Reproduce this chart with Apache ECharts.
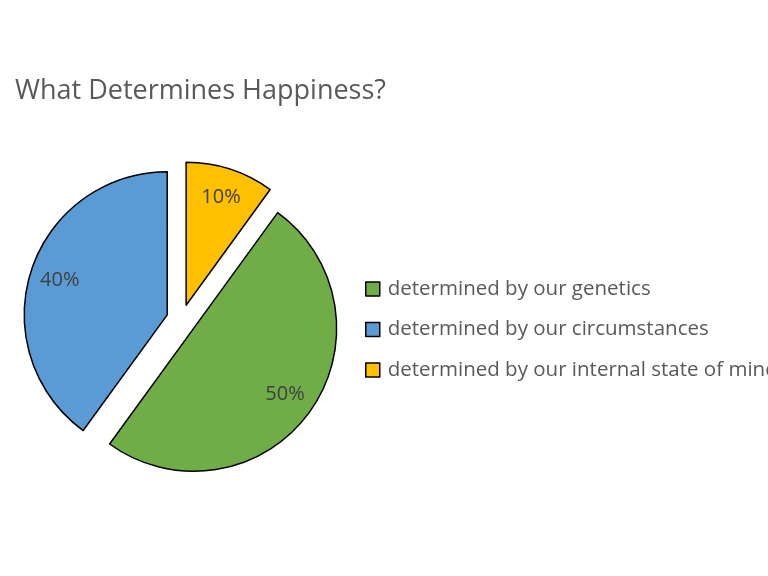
<!DOCTYPE html>
<html>
<head>
<meta charset="utf-8">
<script src="https://cdn.jsdelivr.net/npm/echarts@6/dist/echarts.min.js"></script>
<style>html,body{margin:0;padding:0;background:#fff}#c{width:768px;height:576px}</style>
</head>
<body>
<div id="c"></div>
<script>
var titleText = 'What Determines Happiness?';
var categories = ['determined by our genetics', 'determined by our circumstances', 'determined by our internal state of mind'];
var values = [50, 40, 10];
var colors = ['#70AD47', '#5B9BD5', '#FFC000'];

var FONT = '"Open Sans", sans-serif';
var chart = echarts.init(document.getElementById('c'), null, {renderer: 'canvas'});

function makeData(visible) {
  return categories.map(function (name, i) {
    return {
      name: name,
      value: values[i],
      selected: true,
      itemStyle: visible ? {color: colors[i]} : {color: 'rgba(0,0,0,0)'}
    };
  });
}

chart.setOption({
  animation: false,
  color: colors,
  title: {
    text: titleText,
    left: 15, top: 78,
    padding: 0,
    textStyle: {fontFamily: FONT, fontSize: 27, fontWeight: 'normal', color: '#595959'}
  },
  legend: {
    orient: 'vertical',
    left: 365, top: 278.5,
    padding: 0,
    itemWidth: 14, itemHeight: 14, itemGap: 19.5,
    icon: 'rect',
    selectedMode: false,
    itemStyle: {borderColor: '#000', borderWidth: 1.5},
    textStyle: {fontFamily: FONT, fontSize: 20.5, color: '#595959', padding: [0, 0, 0, 3]},
    data: categories
  },
  series: [{
    type: 'pie',
    center: [181.5, 319.5],
    radius: [0, 143],
    startAngle: 54,
    clockwise: true,
    selectedMode: 'multiple',
    selectedOffset: 15,
    silent: true,
    label: {show: false},
    labelLine: {show: false},
    itemStyle: {borderColor: '#000', borderWidth: 1.5},
    select: {itemStyle: {borderColor: '#000', borderWidth: 1.5}},
    emphasis: {disabled: true},
    data: makeData(true)
  }, {
    type: 'pie',
    center: [181.5, 319.5],
    radius: [76, 144],
    startAngle: 54,
    clockwise: true,
    selectedMode: 'multiple',
    selectedOffset: 15,
    silent: true,
    legendHoverLink: false,
    itemStyle: {borderWidth: 0, color: 'rgba(0,0,0,0)'},
    select: {itemStyle: {borderWidth: 0, color: 'rgba(0,0,0,0)'}},
    emphasis: {disabled: true},
    label: {
      show: true, position: 'inside',
      formatter: function (p) { return p.value + '%'; },
      fontFamily: FONT, fontSize: 20, color: '#404040'
    },
    labelLine: {show: false},
    data: makeData(false)
  }]
});
</script>
</body>
</html>
